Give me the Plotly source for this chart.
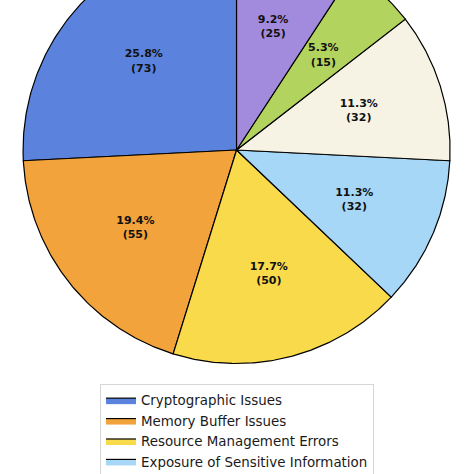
import numpy as np
import plotly.graph_objects as go

# vulnerability categories (last three sit below the visible legend area)
categories = ["Cryptographic Issues", "Memory Buffer Issues", "Resource Management Errors",
              "Exposure of Sensitive Information", "Input Validation Errors",
              "Numeric Errors", "Access Control Issues"]
percents = [25.8, 19.4, 17.7, 11.3, 11.3, 5.3, 9.2]
counts = [73, 55, 50, 32, 32, 15, 25]
colors = ["#5b83dd", "#f2a33c", "#f9da4b", "#a7d7f6", "#f6f3e4", "#b3d35f", "#a28bdd"]

total = sum(percents)
fig = go.Figure()

start = 90.0
label_x = []
label_y = []
label_txt = []
for name, p, c, col in zip(categories, percents, counts, colors):
    sweep = 360.0 * p / total
    th = np.radians(np.linspace(start, start + sweep, 120))
    xs = np.concatenate([[0], np.cos(th), [0]])
    ys = np.concatenate([[0], np.sin(th), [0]])
    fig.add_trace(go.Scatter(x=xs, y=ys, mode="lines", fill="toself", fillcolor=col,
                             line=dict(color="black", width=1.2), name=name,
                             hoverinfo="name"))
    mid = np.radians(start + sweep / 2)
    label_x.append(0.6 * np.cos(mid))
    label_y.append(0.6 * np.sin(mid))
    label_txt.append("<b>%.1f%%<br>(%d)</b>" % (p, c))
    start += sweep

fig.add_trace(go.Scatter(x=label_x, y=label_y, mode="text", text=label_txt,
                         textposition="middle center",
                         textfont=dict(family="DejaVu Sans", size=11, color="#111111"),
                         showlegend=False, hoverinfo="skip"))

fig.update_xaxes(visible=False, range=[-1.108, 1.112], fixedrange=True)
fig.update_yaxes(visible=False, range=[-1.5176, 0.7026], fixedrange=True)

fig.update_layout(
    width=474, height=474,
    margin=dict(l=0, r=0, t=0, b=0, autoexpand=False),
    plot_bgcolor="white", paper_bgcolor="white",
    font=dict(family="DejaVu Sans", color="#1a1a1a"),
    legend=dict(x=0.211, y=0.19, xanchor="left", yanchor="top",
                bgcolor="white", bordercolor="#d6d6d6", borderwidth=1,
                font=dict(family="DejaVu Sans", size=13.4, color="#1a1a1a")),
)

# drop the browser's default body margin so the figure sits at the window corner
fig.write_html("out.html", config={"displayModeBar": False},
               post_script="document.body.style.margin='0';")
